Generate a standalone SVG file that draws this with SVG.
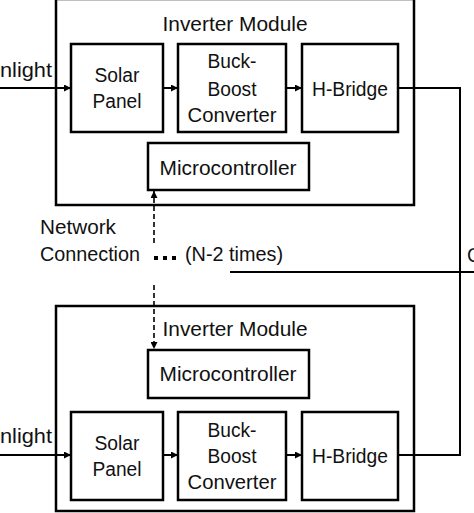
<svg xmlns="http://www.w3.org/2000/svg" width="474" height="513" viewBox="0 0 474 513">
<defs>
<style>
.box{fill:none;stroke:#000;stroke-width:2.5}
.mod{fill:none;stroke:#000;stroke-width:2.5}
.ln{fill:none;stroke:#000;stroke-width:2}
.dash{fill:none;stroke:#000;stroke-width:1.6;stroke-dasharray:5,3}
text{font-family:"Liberation Sans",Arial,sans-serif;font-size:19.5px;fill:#111}
.c{text-anchor:middle}
</style>
<marker id="ah" viewBox="0 0 10 10" refX="10" refY="5" markerWidth="7" markerHeight="7" markerUnits="userSpaceOnUse" orient="auto"><path d="M0,0L10,5L0,10z" fill="#000"/></marker>
</defs>
<rect width="474" height="513" fill="#fff"/>
<g id="module1">
<rect class="mod" x="56" y="-1" width="358" height="206"/>
<text class="c" x="235" y="31" textLength="145" lengthAdjust="spacingAndGlyphs">Inverter Module</text>
</g>
<g id="solar1"><rect class="box" x="71" y="44" width="92" height="88"/><text class="c" x="117" y="82" textLength="45" lengthAdjust="spacingAndGlyphs">Solar</text><text class="c" x="117" y="108" textLength="49" lengthAdjust="spacingAndGlyphs">Panel</text></g>
<g id="buck1"><rect class="box" x="178" y="44" width="108" height="88"/><text class="c" x="232" y="68" textLength="49" lengthAdjust="spacingAndGlyphs">Buck-</text><text class="c" x="232" y="96" textLength="49" lengthAdjust="spacingAndGlyphs">Boost</text><text class="c" x="232" y="122" textLength="89" lengthAdjust="spacingAndGlyphs">Converter</text></g>
<g id="hbridge1"><rect class="box" x="302" y="44" width="96" height="88"/><text class="c" x="350" y="96" textLength="76" lengthAdjust="spacingAndGlyphs">H-Bridge</text></g>
<g id="micro1"><rect class="box" x="148" y="143" width="161" height="47"/><text class="c" x="228" y="175" textLength="137" lengthAdjust="spacingAndGlyphs">Microcontroller</text></g>
<g id="module2">
<rect class="mod" x="56" y="306" width="358" height="205"/>
<text class="c" x="235" y="336" textLength="145" lengthAdjust="spacingAndGlyphs">Inverter Module</text>
</g>
<g id="micro2"><rect class="box" x="148" y="350" width="161" height="48"/><text class="c" x="228" y="381" textLength="137" lengthAdjust="spacingAndGlyphs">Microcontroller</text></g>
<g id="solar2"><rect class="box" x="71" y="412" width="92" height="88"/><text class="c" x="117" y="450" textLength="45" lengthAdjust="spacingAndGlyphs">Solar</text><text class="c" x="117" y="476" textLength="49" lengthAdjust="spacingAndGlyphs">Panel</text></g>
<g id="buck2"><rect class="box" x="178" y="412" width="108" height="88"/><text class="c" x="232" y="437" textLength="49" lengthAdjust="spacingAndGlyphs">Buck-</text><text class="c" x="232" y="463" textLength="49" lengthAdjust="spacingAndGlyphs">Boost</text><text class="c" x="232" y="489" textLength="89" lengthAdjust="spacingAndGlyphs">Converter</text></g>
<g id="hbridge2"><rect class="box" x="302" y="412" width="96" height="88"/><text class="c" x="350" y="463" textLength="76" lengthAdjust="spacingAndGlyphs">H-Bridge</text></g>
<g id="labels">
<text x="0" y="77" textLength="52" lengthAdjust="spacingAndGlyphs">nlight</text>
<text x="0" y="443" textLength="52" lengthAdjust="spacingAndGlyphs">nlight</text>
<text x="40" y="234" textLength="76" lengthAdjust="spacingAndGlyphs">Network</text>
<text x="40" y="261" textLength="100" lengthAdjust="spacingAndGlyphs">Connection</text>
<text x="185" y="261" textLength="98" lengthAdjust="spacingAndGlyphs">(N-2 times)</text>
<text x="467" y="262">C</text>
</g>
<g id="connectors">
<line class="ln" x1="0" y1="88" x2="71" y2="88" marker-end="url(#ah)"/>
<line class="ln" x1="163" y1="88" x2="178" y2="88" marker-end="url(#ah)"/>
<line class="ln" x1="286" y1="88" x2="302" y2="88" marker-end="url(#ah)"/>
<line class="ln" x1="0" y1="455" x2="71" y2="455" marker-end="url(#ah)"/>
<line class="ln" x1="163" y1="455" x2="178" y2="455" marker-end="url(#ah)"/>
<line class="ln" x1="286" y1="455" x2="302" y2="455" marker-end="url(#ah)"/>
<polyline class="ln" points="398,88 460,88 460,455 398,455"/>
<line class="ln" x1="230" y1="272" x2="474" y2="272"/>
<line class="dash" x1="154" y1="243" x2="154" y2="191" marker-end="url(#ah)"/>
<line class="dash" x1="154" y1="285" x2="154" y2="349" marker-end="url(#ah)"/>
<g fill="#000"><rect x="154" y="256" width="4" height="4"/><rect x="163" y="256" width="4" height="4"/><rect x="172" y="256" width="4" height="4"/></g>
</g>
</svg>
